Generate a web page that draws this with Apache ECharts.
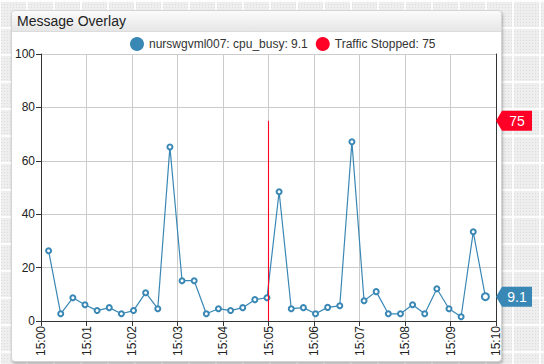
<!DOCTYPE html>
<html>
<head>
<meta charset="utf-8">
<script src="https://cdn.jsdelivr.net/npm/echarts@6/dist/echarts.min.js"></script>
<style>
  html, body { margin:0; padding:0; width:544px; height:364px; overflow:hidden; }
  body {
    background-color:#eeeeee;
    background-image:
      linear-gradient(90deg, rgba(255,255,255,0.9) 2px, transparent 2px),
      linear-gradient(0deg, rgba(255,255,255,0.9) 2px, transparent 2px),
      radial-gradient(#dcdcdc 0.8px, transparent 0.9px);
    background-size: 27px 27px, 27px 27px, 3px 3px;
    background-position: -1px 0, 0 2px, 0 0;
    font-family: 'Liberation Sans', Arial, sans-serif;
  }
  #panel {
    position:absolute; left:11px; top:10px; width:489px; height:350px;
    background:#fff; border:1px solid #d4d4d4; border-radius:4px;
    box-shadow: 1px 2px 3px rgba(0,0,0,0.25);
  }
  #header {
    height:20px; border-bottom:1px solid #dcdcdc;
    background: linear-gradient(#fbfbfb, #e6e6e6);
    border-radius:4px 4px 0 0;
    font-size:14px; color:#222; line-height:20px; padding-left:5px;
  }
  #chart { position:absolute; left:0; top:0; width:544px; height:364px; }
</style>
</head>
<body>
<div id="panel"><div id="header">Message Overlay</div></div>
<div id="chart"></div>
<script>
// ---- data ----
var cpuTimes = ['15:00:10','15:00:26','15:00:42','15:00:58','15:01:14','15:01:30','15:01:46','15:02:02',
  '15:02:18','15:02:34','15:02:50','15:03:06','15:03:22','15:03:38','15:03:54','15:04:10','15:04:26',
  '15:04:42','15:04:58','15:05:14','15:05:30','15:05:46','15:06:02','15:06:18','15:06:34','15:06:50',
  '15:07:06','15:07:22','15:07:38','15:07:54','15:08:10','15:08:26','15:08:42','15:08:58','15:09:14',
  '15:09:30','15:09:46'];
var cpuValues = [26.3, 2.7, 8.7, 6.1, 3.9, 5.0, 2.7, 3.9, 10.6, 4.6, 65.2, 15.1, 15.1, 2.7, 4.6, 3.9, 5.0,
  8.0, 8.7, 48.4, 4.6, 5.0, 2.7, 5.1, 5.7, 67.1, 7.6, 11.0, 2.7, 2.7, 6.1, 2.7, 12.1, 4.6, 1.6,
  33.4, 9.1];
var trafficTimes = ['15:05:00', '15:05:00'];
var trafficValues = [0, 75];
var xTickLabels = ['15:00','15:01','15:02','15:03','15:04','15:05','15:06','15:07','15:08','15:09','15:10'];
var cpuName = 'nurswgvml007: cpu_busy';
var trafficName = 'Traffic Stopped';
var cpuLast = 9.1;
var trafficLast = 75;

function toTs(s) {
  var p = s.split(':');
  return Date.UTC(2024, 0, 1, +p[0], +p[1], +(p[2] || 0));
}
function fmt(v) {
  var d = new Date(v);
  var h = d.getUTCHours(), m = d.getUTCMinutes();
  return (h < 10 ? '0' : '') + h + ':' + (m < 10 ? '0' : '') + m;
}

var xMin = toTs(xTickLabels[0]);
var xMax = toTs(xTickLabels[xTickLabels.length - 1]);
var BLUE = '#3987b4', RED = '#ff0027';
var FONT = "'Liberation Sans', Arial, sans-serif";

var cpuData = cpuTimes.map(function (t, i) {
  var item = { value: [toTs(t), cpuValues[i]] };
  if (i === cpuTimes.length - 1) { item.symbolSize = 7; item.itemStyle = { borderWidth: 2.5 }; }
  return item;
});
var trafficData = trafficTimes.map(function (t, i) { return [toTs(t), trafficValues[i]]; });

var tagPath = 'path://M0,10 L6,0 L36,0 L36,20 L6,20 Z';
function tag(val, color) {
  return {
    silent: true,
    symbol: tagPath,
    symbolSize: [36, 20],
    symbolKeepAspect: false,
    symbolOffset: [18, 0],
    itemStyle: { color: color, borderWidth: 0 },
    label: { show: true, position: 'inside', offset: [3, 0], color: '#fff', fontSize: 14, fontFamily: FONT,
      formatter: String(val) },
    data: [{ coord: [xMax, val], value: val }]
  };
}

var chart = echarts.init(document.getElementById('chart'), null, { renderer: 'svg' });
chart.setOption({
  animation: false,
  textStyle: { fontFamily: FONT },
  legend: {
    left: 125, top: 32, itemWidth: 14, itemHeight: 14, itemGap: 8, icon: 'circle',
    textStyle: { fontSize: 12, color: '#333', fontFamily: FONT },
    formatter: function (n) { return n === cpuName ? n + ': ' + cpuLast : n + ': ' + trafficLast; },
    data: [cpuName, trafficName]
  },
  grid: { left: 41, right: 48, top: 54, bottom: 43 },
  xAxis: [{
    type: 'value', min: xMin, max: xMax, interval: 60000,
    axisLine: { lineStyle: { color: '#333' } },
    axisTick: { show: true, length: 5, lineStyle: { color: '#333' } },
    axisLabel: { rotate: 90, margin: 5, fontSize: 12, color: '#222', fontFamily: FONT,
      formatter: function (v) { return fmt(v); } },
    splitLine: { show: true, lineStyle: { color: '#cccccc' } }
  }, {
    type: 'value', position: 'top', min: xMin, max: xMax, interval: 60000,
    axisLine: { show: true, lineStyle: { color: '#333' } },
    axisTick: { show: false }, axisLabel: { show: false }, splitLine: { show: false }
  }],
  yAxis: [{
    type: 'value', min: 0, max: 100, interval: 20,
    axisLine: { show: true, lineStyle: { color: '#333' } },
    axisTick: { show: true, length: 5, lineStyle: { color: '#333' } },
    axisLabel: { margin: 6, fontSize: 12, color: '#222', fontFamily: FONT },
    splitLine: { show: true, lineStyle: { color: '#cccccc' } }
  }, {
    type: 'value', position: 'right', min: 0, max: 100, interval: 20,
    axisLine: { show: true, lineStyle: { color: '#333' } },
    axisTick: { show: false }, axisLabel: { show: false }, splitLine: { show: false }
  }],
  series: [{
    name: cpuName, type: 'line', data: cpuData,
    color: BLUE,
    symbol: 'emptyCircle', symbolSize: 5, showAllSymbol: true,
    lineStyle: { width: 1.2, color: BLUE },
    itemStyle: { color: BLUE, borderWidth: 1.5 },
    emphasis: { disabled: true },
    markPoint: tag(cpuLast, BLUE),
    z: 3
  }, {
    name: trafficName, type: 'line', data: trafficData,
    color: RED,
    showSymbol: false, symbol: 'none',
    lineStyle: { width: 1.1, color: RED },
    emphasis: { disabled: true },
    markPoint: tag(trafficLast, RED),
    z: 4
  }]
});
</script>
</body>
</html>
